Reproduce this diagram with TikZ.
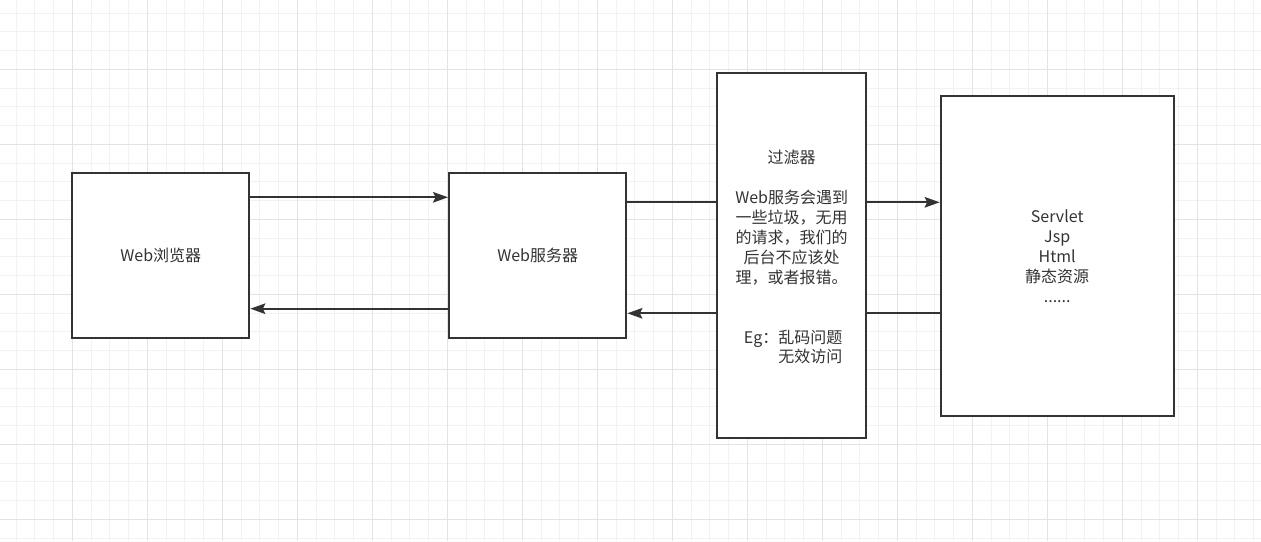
\documentclass[tikz,border=0pt]{standalone}
\usepackage{fontspec}
\setmainfont{Noto Sans CJK SC}
\usetikzlibrary{arrows.meta}
\definecolor{ink}{HTML}{333333}
\definecolor{gridminor}{HTML}{F2F2F2}
\definecolor{gridmajor}{HTML}{E3E3E3}
\begin{document}
\begin{tikzpicture}[x=1pt,y=-1pt,
  box/.style={draw=ink, line width=2pt, fill=white, inner sep=0pt, text=ink,
    font=\fontsize{16pt}{20pt}\selectfont, align=center},
  txt/.style={text=ink, inner sep=0pt, align=center, font=\fontsize{16pt}{20pt}\selectfont},
  conn/.style={draw=ink, line width=2pt},
  arr/.style={conn, -{Stealth[length=15pt,width=10.5pt,inset=2.5pt]}},
  gmin/.style={draw=gridminor, line width=1pt},
  gmaj/.style={draw=gridmajor, line width=1pt}]
\fill[white] (0,0) rectangle (1261,541);
\useasboundingbox (0,0) rectangle (1261,541);
% grid
\foreach \i in {0,...,67} \draw[gmin] ({-2.7+18.75*\i},0) -- ({-2.7+18.75*\i},541);
\foreach \i in {0,...,29} \draw[gmin] (0,{-5.7+18.75*\i}) -- (1261,{-5.7+18.75*\i});
\foreach \i in {0,...,17} \draw[gmaj] ({-2.7+75*\i},0) -- ({-2.7+75*\i},541);
\foreach \i in {0,...,7} \draw[gmaj] (0,{-5.7+75*\i}) -- (1261,{-5.7+75*\i});
% boxes
\node[box, minimum width=177pt, minimum height=164.7pt] (browser) at (160.8,255.7) {Web浏览器};
\node[box, minimum width=177.3pt, minimum height=164.7pt] (server) at (537.7,255.7) {Web服务器};
\node[box, minimum width=149.3pt, minimum height=364.7pt] (filter) at (791.7,255.7) {};
\node[box, minimum width=233pt, minimum height=320.3pt] (servlet) at (1057.2,255.8) {Servlet\\Jsp\\Html\\静态资源\\......};
\node[txt] (filtertext) at (791.7,217.5) {过滤器\\[20pt]Web服务会遇到\\一些垃圾，无用\\的请求，我们的\\后台不应该处\\理，或者报错。};
\node[txt, anchor=east, align=right, font=\fontsize{16pt}{19pt}\selectfont] (eg) at (842.5,347) {Eg：乱码问题\\无效访问};
% connectors
\coordinate (ya) at (0,197.3);
\coordinate (yb) at (0,308.7);
\coordinate (yc) at (0,202.3);
\coordinate (yd) at (0,313.3);
\draw[arr] (browser.east |- ya) -- (server.west |- ya);
\draw[arr] (server.west |- yb) -- (browser.east |- yb);
\draw[conn] (server.east |- yc) -- (filter.west |- yc);
\draw[arr] (filter.east |- yc) -- (servlet.west |- yc);
\draw[conn] (servlet.west |- yd) -- (filter.east |- yd);
\draw[arr] (filter.west |- yd) -- (server.east |- yd);
\end{tikzpicture}
\end{document}
